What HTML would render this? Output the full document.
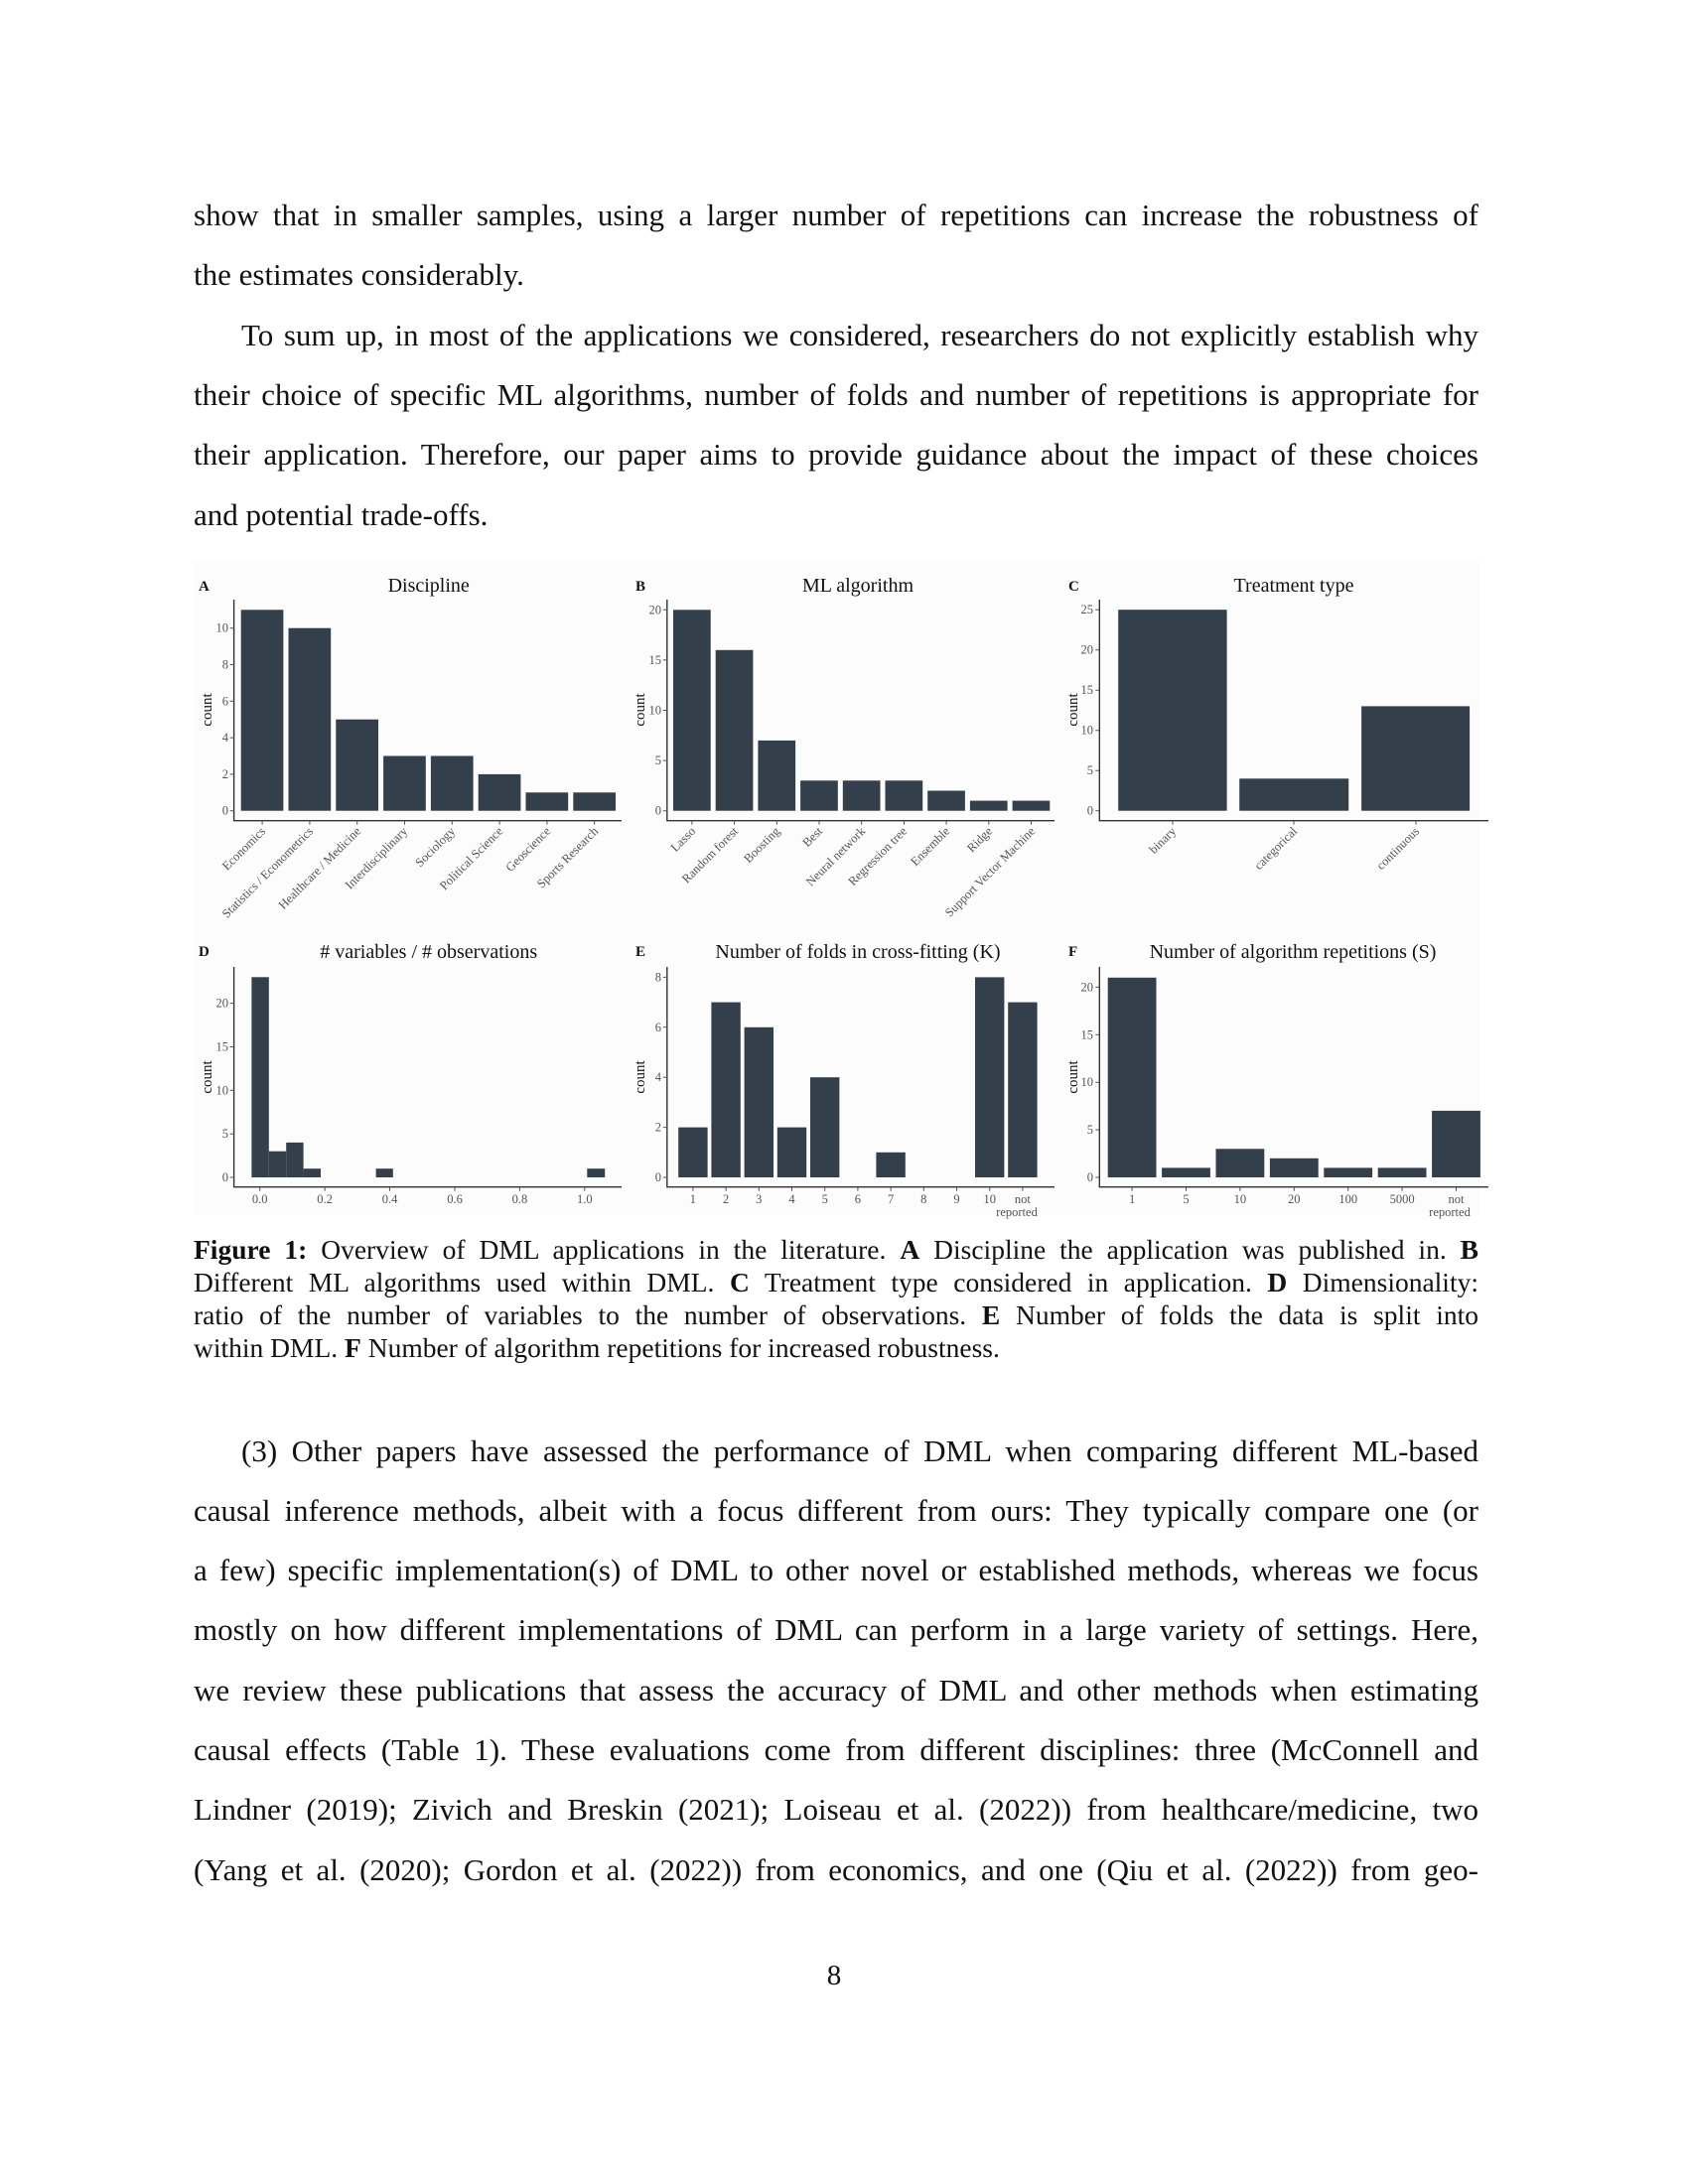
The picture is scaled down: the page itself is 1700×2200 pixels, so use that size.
<!DOCTYPE html>
<html><head><meta charset="utf-8"><style>
html,body{margin:0;padding:0;background:#fff;}
body{width:1700px;height:2200px;position:relative;overflow:hidden;font-family:"Liberation Serif",serif;color:#111;}
.l{position:absolute;left:195px;width:1294px;font-size:31px;line-height:40px;height:40px;white-space:nowrap;overflow:hidden;}
.j{text-align:justify;text-align-last:justify;white-space:normal;}
.c{position:absolute;left:195px;width:1294px;font-size:27.5px;line-height:33px;height:33px;overflow:hidden;}
svg{position:absolute;left:0;top:0;}
</style></head><body>
<div class="l j" style="top:197px">show that in smaller samples, using a larger number of repetitions can increase the robustness of</div>
<div class="l" style="top:257px">the estimates considerably.</div>
<div class="l j" style="top:318px;padding-left:48px;width:1246px">To sum up, in most of the applications we considered, researchers do not explicitly establish why</div>
<div class="l j" style="top:378px">their choice of specific ML algorithms, number of folds and number of repetitions is appropriate for</div>
<div class="l j" style="top:438px">their application. Therefore, our paper aims to provide guidance about the impact of these choices</div>
<div class="l" style="top:499px">and potential trade-offs.</div>

<svg width="1700" height="2200" viewBox="0 0 1700 2200" font-family="Liberation Serif, serif">
<rect x="194" y="565" width="1296" height="658" fill="#fcfcfc"/>
<g fill="#333f4a">
<rect x="242.7" y="614.3" width="42.7" height="202.4"/>
<rect x="290.5" y="632.7" width="42.7" height="184"/>
<rect x="338.3" y="724.7" width="42.7" height="92"/>
<rect x="386.1" y="761.5" width="42.7" height="55.2"/>
<rect x="433.9" y="761.5" width="42.7" height="55.2"/>
<rect x="481.7" y="779.9" width="42.7" height="36.8"/>
<rect x="529.5" y="798.3" width="42.7" height="18.4"/>
<rect x="577.3" y="798.3" width="42.7" height="18.4"/>
<rect x="678" y="614.3" width="37.7" height="202.4"/>
<rect x="720.7" y="654.8" width="37.7" height="161.9"/>
<rect x="763.4" y="745.9" width="37.7" height="70.8"/>
<rect x="806.1" y="786.3" width="37.7" height="30.4"/>
<rect x="848.8" y="786.3" width="37.7" height="30.4"/>
<rect x="891.5" y="786.3" width="37.7" height="30.4"/>
<rect x="934.2" y="796.5" width="37.7" height="20.2"/>
<rect x="976.9" y="806.6" width="37.7" height="10.1"/>
<rect x="1019.6" y="806.6" width="37.7" height="10.1"/>
<rect x="1126.2" y="614.2" width="109.4" height="202.5"/>
<rect x="1248.2" y="784.3" width="110" height="32.4"/>
<rect x="1371.1" y="711.4" width="109" height="105.3"/>
<rect x="253.4" y="984.3" width="17.4" height="201.7"/>
<rect x="270.8" y="1159.7" width="17.4" height="26.3"/>
<rect x="288.2" y="1150.9" width="17.4" height="35.1"/>
<rect x="305.6" y="1177.2" width="17.4" height="8.8"/>
<rect x="378.6" y="1177.2" width="17.2" height="8.8"/>
<rect x="591.3" y="1177.2" width="17.9" height="8.8"/>
<rect x="683.2" y="1135.6" width="29.4" height="50.4"/>
<rect x="716.4" y="1009.6" width="29.4" height="176.4"/>
<rect x="749.6" y="1034.8" width="29.4" height="151.2"/>
<rect x="782.8" y="1135.6" width="29.4" height="50.4"/>
<rect x="816" y="1085.2" width="29.4" height="100.8"/>
<rect x="882.4" y="1160.8" width="29.4" height="25.2"/>
<rect x="982" y="984.4" width="29.4" height="201.6"/>
<rect x="1015.2" y="1009.6" width="29.4" height="176.4"/>
<rect x="1115.7" y="984.8" width="48.8" height="201.2"/>
<rect x="1170.1" y="1176.4" width="48.8" height="9.6"/>
<rect x="1224.5" y="1157.3" width="48.8" height="28.7"/>
<rect x="1278.9" y="1166.8" width="48.8" height="19.2"/>
<rect x="1333.3" y="1176.4" width="48.8" height="9.6"/>
<rect x="1387.7" y="1176.4" width="48.8" height="9.6"/>
<rect x="1442.1" y="1118.9" width="48.8" height="67.1"/>
</g>
<g stroke="#333" stroke-width="1.4" fill="none">
<path d="M235.6 604V826.7H626"/>
<path d="M671.8 604V826.7H1062"/>
<path d="M1107.3 604V826.7H1499"/>
<path d="M235.6 974V1195.7H626"/>
<path d="M671.8 974V1195.7H1062"/>
<path d="M1107.3 974V1195.7H1499"/>
</g>
<g stroke="#555" stroke-width="1">
<path d="M231.6 816.7h4M231.6 779.9h4M231.6 743.1h4M231.6 706.3h4M231.6 669.5h4M231.6 632.7h4"/>
<path d="M667.8 816.7h4M667.8 766.1h4M667.8 715.5h4M667.8 664.9h4M667.8 614.3h4"/>
<path d="M1103.3 816.7h4M1103.3 776.2h4M1103.3 735.7h4M1103.3 695.2h4M1103.3 654.7h4M1103.3 614.2h4"/>
<path d="M231.6 1186h4M231.6 1142.2h4M231.6 1098.3h4M231.6 1054.5h4M231.6 1010.6h4"/>
<path d="M667.8 1186h4M667.8 1135.6h4M667.8 1085.2h4M667.8 1034.8h4M667.8 984.4h4"/>
<path d="M1103.3 1186h4M1103.3 1138.1h4M1103.3 1090.2h4M1103.3 1042.3h4M1103.3 994.4h4"/>
<path d="M264.1 826.7v4M311.9 826.7v4M359.7 826.7v4M407.5 826.7v4M455.3 826.7v4M503.1 826.7v4M550.9 826.7v4M598.7 826.7v4"/>
<path d="M696.9 826.7v4M739.6 826.7v4M782.3 826.7v4M825 826.7v4M867.7 826.7v4M910.4 826.7v4M953.1 826.7v4M995.8 826.7v4M1038.5 826.7v4"/>
<path d="M1181 826.7v4M1303 826.7v4M1426 826.7v4"/>
<path d="M261.7 1195.7v4M327.1 1195.7v4M392.5 1195.7v4M458 1195.7v4M523.4 1195.7v4M588.8 1195.7v4"/>
<path d="M697.9 1195.7v4M731.1 1195.7v4M764.3 1195.7v4M797.5 1195.7v4M830.7 1195.7v4M863.9 1195.7v4M897.1 1195.7v4M930.3 1195.7v4M963.5 1195.7v4M996.7 1195.7v4M1029.9 1195.7v4"/>
<path d="M1140.1 1195.7v4M1194.5 1195.7v4M1248.9 1195.7v4M1303.3 1195.7v4M1357.7 1195.7v4M1412.1 1195.7v4M1466.5 1195.7v4"/>
</g>
<g font-size="12.5" fill="#555" text-anchor="end">
<text x="230" y="820.7">0</text><text x="230" y="783.9">2</text><text x="230" y="747.1">4</text><text x="230" y="710.3">6</text><text x="230" y="673.5">8</text><text x="230" y="636.7">10</text>
<text x="666" y="820.7">0</text><text x="666" y="770.1">5</text><text x="666" y="719.5">10</text><text x="666" y="668.9">15</text><text x="666" y="618.3">20</text>
<text x="1101" y="820.7">0</text><text x="1101" y="780.2">5</text><text x="1101" y="739.7">10</text><text x="1101" y="699.2">15</text><text x="1101" y="658.7">20</text><text x="1101" y="618.2">25</text>
<text x="230" y="1190">0</text><text x="230" y="1146.2">5</text><text x="230" y="1102.3">10</text><text x="230" y="1058.5">15</text><text x="230" y="1014.6">20</text>
<text x="666" y="1190">0</text><text x="666" y="1139.6">2</text><text x="666" y="1089.2">4</text><text x="666" y="1038.8">6</text><text x="666" y="988.4">8</text>
<text x="1101" y="1190">0</text><text x="1101" y="1142.1">5</text><text x="1101" y="1094.2">10</text><text x="1101" y="1046.3">15</text><text x="1101" y="998.4">20</text>
</g>
<g font-size="12.5" fill="#555" text-anchor="middle">
<text x="261.7" y="1212">0.0</text><text x="327.1" y="1212">0.2</text><text x="392.5" y="1212">0.4</text><text x="458" y="1212">0.6</text><text x="523.4" y="1212">0.8</text><text x="588.8" y="1212">1.0</text>
<text x="697.9" y="1212">1</text><text x="731.1" y="1212">2</text><text x="764.3" y="1212">3</text><text x="797.5" y="1212">4</text><text x="830.7" y="1212">5</text><text x="863.9" y="1212">6</text><text x="897.1" y="1212">7</text><text x="930.3" y="1212">8</text><text x="963.5" y="1212">9</text><text x="996.7" y="1212">10</text><text x="1029.9" y="1212">not</text><text x="1024" y="1225">reported</text>
<text x="1140.1" y="1212">1</text><text x="1194.5" y="1212">5</text><text x="1248.9" y="1212">10</text><text x="1303.3" y="1212">20</text><text x="1357.7" y="1212">100</text><text x="1412.1" y="1212">5000</text><text x="1466.5" y="1212">not</text><text x="1460" y="1225">reported</text>
</g>
<g font-size="12.5" fill="#555" text-anchor="end">
<text transform="translate(268,838) rotate(-45)">Economics</text>
<text transform="translate(316,838) rotate(-45)">Statistics / Econometrics</text>
<text transform="translate(364,838) rotate(-45)">Healthcare / Medicine</text>
<text transform="translate(411,838) rotate(-45)">Interdisciplinary</text>
<text transform="translate(459,838) rotate(-45)">Sociology</text>
<text transform="translate(507,838) rotate(-45)">Political Science</text>
<text transform="translate(555,838) rotate(-45)">Geoscience</text>
<text transform="translate(603,838) rotate(-45)">Sports Research</text>
<text transform="translate(701,838) rotate(-45)">Lasso</text>
<text transform="translate(744,838) rotate(-45)">Random forest</text>
<text transform="translate(786,838) rotate(-45)">Boosting</text>
<text transform="translate(829,838) rotate(-45)">Best</text>
<text transform="translate(872,838) rotate(-45)">Neural network</text>
<text transform="translate(914,838) rotate(-45)">Regression tree</text>
<text transform="translate(957,838) rotate(-45)">Ensemble</text>
<text transform="translate(1000,838) rotate(-45)">Ridge</text>
<text transform="translate(1043,838) rotate(-45)">Support Vector Machine</text>
<text transform="translate(1185,838) rotate(-45)">binary</text>
<text transform="translate(1307,838) rotate(-45)">categorical</text>
<text transform="translate(1430,838) rotate(-45)">continuous</text>
</g>
<g font-size="15" fill="#111" text-anchor="middle">
<text transform="translate(213,715) rotate(-90)">count</text>
<text transform="translate(649,715) rotate(-90)">count</text>
<text transform="translate(1085,715) rotate(-90)">count</text>
<text transform="translate(213,1085) rotate(-90)">count</text>
<text transform="translate(649,1085) rotate(-90)">count</text>
<text transform="translate(1085,1085) rotate(-90)">count</text>
</g>
<g font-size="20" fill="#111" text-anchor="middle">
<text x="431.7" y="596">Discipline</text>
<text x="864" y="596">ML algorithm</text>
<text x="1303" y="596">Treatment type</text>
<text x="431.7" y="965"># variables / # observations</text>
<text x="864" y="965">Number of folds in cross-fitting (K)</text>
<text x="1302" y="965">Number of algorithm repetitions (S)</text>
</g>
<g font-size="15" font-weight="bold" fill="#111">
<text x="200" y="595">A</text><text x="640" y="595">B</text><text x="1076" y="595">C</text>
<text x="200" y="963">D</text><text x="640" y="963">E</text><text x="1076" y="963">F</text>
</g>
</svg>

<div class="c" style="top:1242px;text-align:justify;text-align-last:justify"><b>Figure 1:</b> Overview of DML applications in the literature. <b>A</b> Discipline the application was published in. <b>B</b></div>
<div class="c" style="top:1275px;text-align:justify;text-align-last:justify">Different ML algorithms used within DML. <b>C</b> Treatment type considered in application. <b>D</b> Dimensionality:</div>
<div class="c" style="top:1308px;text-align:justify;text-align-last:justify">ratio of the number of variables to the number of observations. <b>E</b> Number of folds the data is split into</div>
<div class="c" style="top:1341px">within DML. <b>F</b> Number of algorithm repetitions for increased robustness.</div>

<div class="l j" style="top:1442px;padding-left:48px;width:1246px">(3) Other papers have assessed the performance of DML when comparing different ML-based</div>
<div class="l j" style="top:1502px">causal inference methods, albeit with a focus different from ours: They typically compare one (or</div>
<div class="l j" style="top:1562px">a few) specific implementation(s) of DML to other novel or established methods, whereas we focus</div>
<div class="l j" style="top:1622px">mostly on how different implementations of DML can perform in a large variety of settings. Here,</div>
<div class="l j" style="top:1683px">we review these publications that assess the accuracy of DML and other methods when estimating</div>
<div class="l j" style="top:1743px">causal effects (Table 1). These evaluations come from different disciplines: three (McConnell and</div>
<div class="l j" style="top:1803px">Lindner (2019); Zivich and Breskin (2021); Loiseau et al. (2022)) from healthcare/medicine, two</div>
<div class="l j" style="top:1864px">(Yang et al. (2020); Gordon et al. (2022)) from economics, and one (Qiu et al. (2022)) from geo-</div>
<div style="position:absolute;left:800px;width:80px;text-align:center;top:1970px;font-size:29px;line-height:40px">8</div>
</body></html>
